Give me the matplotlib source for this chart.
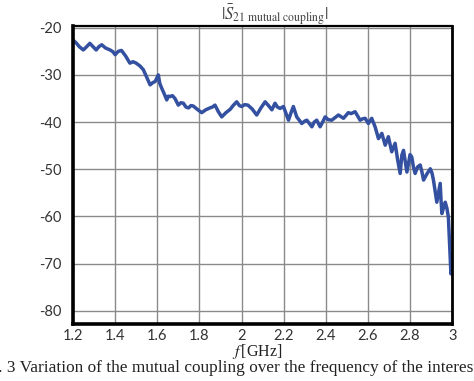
import numpy as np
import matplotlib
matplotlib.use('Agg')
import matplotlib.pyplot as plt

# Traced values of the mutual coupling curve
FREQ_GHZ = [
    1.200, 1.215, 1.230, 1.249, 1.265, 1.280, 1.295, 1.310, 1.323, 1.336,
    1.355, 1.376, 1.390, 1.400, 1.415, 1.430, 1.450, 1.470, 1.485, 1.500,
    1.518, 1.534, 1.550, 1.566, 1.580, 1.590, 1.605, 1.612, 1.621, 1.633,
    1.645, 1.652, 1.660, 1.672, 1.684, 1.700, 1.712, 1.724, 1.736, 1.748,
    1.760, 1.771, 1.790, 1.811, 1.830, 1.850, 1.862, 1.874, 1.890, 1.906,
    1.926, 1.946, 1.960, 1.977, 1.990, 2.000, 2.015, 2.030, 2.050, 2.072,
    2.092, 2.112, 2.128, 2.144, 2.159, 2.170, 2.183, 2.199, 2.210, 2.223,
    2.235, 2.246, 2.262, 2.286, 2.300, 2.310, 2.334, 2.345, 2.357, 2.373,
    2.385, 2.397, 2.412, 2.428, 2.445, 2.460, 2.484, 2.507, 2.520, 2.539,
    2.563, 2.575, 2.587, 2.602, 2.618, 2.634, 2.650, 2.666, 2.682, 2.697,
    2.713, 2.729, 2.741, 2.753, 2.761, 2.769, 2.785, 2.800, 2.808, 2.816,
    2.824, 2.836, 2.848, 2.856, 2.864, 2.880, 2.896, 2.904, 2.911, 2.920,
    2.927, 2.935, 2.943, 2.947, 2.951, 2.960, 2.967, 2.975, 2.982, 2.988,
    2.994, 2.997, 3.000,
]
S21_DB = [
    -22.6, -23.2, -24.0, -24.7, -24.0, -23.3, -24.0, -24.7, -24.0, -23.6,
    -24.3, -24.7, -25.1, -25.7, -25.0, -24.8, -26.0, -27.5, -27.2, -27.5,
    -28.1, -28.9, -30.5, -32.1, -31.6, -31.4, -30.0, -31.8, -32.8, -34.0,
    -35.3, -34.5, -34.6, -34.4, -35.0, -36.4, -35.9, -36.0, -36.8, -37.0,
    -36.5, -36.6, -37.3, -38.0, -37.4, -37.0, -36.8, -36.4, -37.8, -38.9,
    -38.0, -37.3, -36.5, -35.7, -36.5, -36.7, -36.3, -36.4, -37.2, -38.5,
    -37.0, -35.7, -36.5, -37.4, -36.0, -36.8, -37.1, -36.7, -38.0, -39.6,
    -38.0, -36.7, -38.9, -40.3, -39.8, -39.6, -41.0, -40.0, -39.6, -41.0,
    -40.0, -38.9, -39.5, -39.6, -39.0, -38.5, -39.2, -38.0, -38.2, -37.8,
    -39.6, -39.3, -39.2, -40.3, -39.2, -41.0, -43.5, -42.4, -44.9, -43.1,
    -46.3, -44.5, -48.0, -50.9, -47.0, -46.0, -50.6, -46.9, -47.4, -49.5,
    -50.9, -49.5, -49.1, -50.5, -52.3, -51.0, -49.9, -50.8, -52.3, -55.0,
    -57.0, -55.0, -53.0, -56.5, -59.4, -58.0, -57.0, -58.3, -60.2, -66.0,
    -72.2, -68.0, -70.0,
]

X_TICKS = [1.2, 1.4, 1.6, 1.8, 2.0, 2.2, 2.4, 2.6, 2.8, 3.0]
X_TICK_LABELS = ['1.2', '1.4', '1.6', '1.8', '2', '2.2', '2.4', '2.6', '2.8', '3']
Y_TICKS = [-20, -30, -40, -50, -60, -70, -80]


def main():
    plt.rcParams['mathtext.fontset'] = 'stix'
    plt.rcParams['axes.unicode_minus'] = False

    fig = plt.figure(figsize=(4.74, 3.81), dpi=100)
    ax = fig.add_axes([0.154, 0.150, 0.800, 0.782])

    ax.plot(FREQ_GHZ, S21_DB, color='#3450a0', lw=2.5, solid_joinstyle='round')

    ax.set_xlim(1.2, 3.0)
    ax.set_ylim(-82.8, -19.6)
    ax.set_xticks(X_TICKS)
    ax.set_xticklabels(X_TICK_LABELS)
    ax.set_yticks(Y_TICKS)

    ax.grid(True, color='#8a8a8a', lw=1.0)
    ax.set_axisbelow(True)
    ax.tick_params(length=0, labelsize=10.5, labelcolor='#333333')
    ax.tick_params(axis='y', pad=8)
    ax.tick_params(axis='x', pad=4)
    for lab in ax.get_xticklabels() + ax.get_yticklabels():
        lab.set_family('Lato')

    ax.spines['left'].set_linewidth(2.6)
    ax.spines['bottom'].set_linewidth(2.6)
    ax.spines['top'].set_linewidth(1.6)
    ax.spines['right'].set_linewidth(2.0)

    fig.text(0.58, 0.962, r'$|\bar{S}_{21\ \mathrm{mutual\ coupling}}|$',
             ha='center', va='center', fontsize=12, color='#444444')
    fig.text(0.543, 0.078, r'$f\,$[GHz]', ha='center', va='center',
             fontsize=11.5, family='Liberation Serif', color='#222222')
    fig.text(-0.052, 0.033,
             'Fig. 3 Variation of the mutual coupling over the frequency of the interest',
             ha='left', va='center', fontsize=12.4, family='Liberation Serif',
             color='#222222')

    fig.savefig('out.png', dpi=100)


if __name__ == '__main__':
    main()
